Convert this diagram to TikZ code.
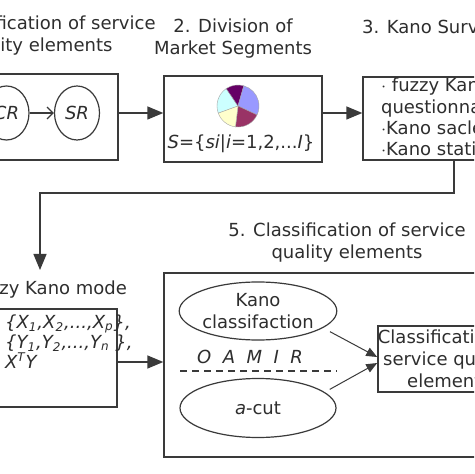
\documentclass[tikz,border=0pt]{standalone}
\usepackage{fontspec}
\setmainfont{DejaVu Sans}
\usepackage{tikz}
\usetikzlibrary{arrows.meta,shapes.geometric}
\definecolor{linec}{HTML}{3A3A3A}
\definecolor{textc}{HTML}{2E2E2E}
\definecolor{pblue}{HTML}{9999FF}
\definecolor{pmaroon}{HTML}{993366}
\definecolor{pyellow}{HTML}{FFFFCC}
\definecolor{pcyan}{HTML}{CCFFFF}
\definecolor{ppurple}{HTML}{660066}

\begin{document}
\begin{tikzpicture}[x=0.5pt,y=-0.5pt,
    font=\fontsize{9}{11}\selectfont, text=textc,
    box/.style={draw=linec, line width=0.7pt, inner sep=0pt},
    ell/.style={ellipse, draw=linec, line width=0.6pt, inner sep=0pt, align=center},
    arr/.style={draw=linec, line width=0.7pt, -{Triangle[length=8pt,width=6.5pt]}},
    smallarr/.style={draw=linec, line width=0.5pt, -{Triangle[length=5.5pt,width=4.5pt]}}]

\useasboundingbox (0,0) rectangle (474,474);
\fill[white] (0,0) rectangle (474,474);
\clip (0,0) rectangle (474,474);

\node[align=center] (t1) at (37,36) {1. Classification of service\\quality elements};
\node[align=center] (t2) at (233,39) {2. Division of\\Market Segments};
\node[anchor=west] (t3) at (355,29) {3. Kano Survey};
\node[anchor=east] (t4) at (134,290) {4. Fuzzy Kano mode};
\node[align=center] (t5) at (347,243) {5. Classification of service\\quality elements};

\node[box, minimum width=79pt, minimum height=43pt] (box1) at (39,117) {};
\node[ell, minimum width=22.5pt, minimum height=27pt] (cr) at (6.5,113) {\textit{CR}};
\node[ell, minimum width=22.5pt, minimum height=27pt] (sr) at (77,113) {\textit{SR}};
\draw[draw=linec, line width=0.6pt, -{Straight Barb[length=3pt,width=6pt]}] (cr) -- (sr);

\node[box, minimum width=79pt, minimum height=43pt] (box2) at (243,119) {};
\foreach \a/\b/\c in {-200/-124/pcyan, -124/-74/ppurple, -74/25/pblue, 25/97/pmaroon, 97/160/pyellow}
    \filldraw[fill=\c, draw=gray!70, line width=0.2pt] (238,106) -- ++(\a:21) arc[start angle=\a, end angle=\b, radius=21] -- cycle;
\node (seg) at (241,144) {\textit{S}=\{\textit{si}|\textit{i}=1,2,...\textit{I}\}};

\node[box, minimum width=79pt, minimum height=41.5pt] (box3) at (442,118.5) {};
\node[anchor=west, align=left, font=\fontsize{9}{10.6}\selectfont] (survey) at (374,117)
    {$\cdot$ fuzzy Kano\\questionnaire\\$\cdot$Kano sacle\\$\cdot$Kano statistics};

\node[box, minimum width=78.5pt, minimum height=49pt] (box4) at (38.5,358) {};
\node[anchor=west, align=left, font=\itshape\fontsize{9}{10}\selectfont] (vec) at (-2,342)
    {\{X\textsubscript{1},X\textsubscript{2},...,X\textsubscript{p}\},\\
     \{Y\textsubscript{1},Y\textsubscript{2},...,Y\textsubscript{n} \},\\
     X\textsuperscript{T}Y};

\node[box, minimum width=183pt, minimum height=92pt] (box5) at (347,365) {};
\node[ell, minimum width=78pt, minimum height=29pt] (kc) at (258,311) {Kano\\classifaction};
\node (oamir) at (250,357) {\textit{O\ \ A\ \ M\ \ I\ \ R}};
\draw[draw=linec, line width=0.6pt, dash pattern=on 3.5pt off 2.5pt] (180,371) -- (337,371);
\node[ell, minimum width=78pt, minimum height=29.5pt] (ac) at (258,408) {\textit{a}-cut};
\node[box, minimum width=66pt, minimum height=33pt, align=center] (res) at (449,359)
    {Classification of\\service quality\\elements};
\draw[smallarr] ([shift={(3,6)}]kc.-12) -- ([yshift=1pt]res.west);
\draw[smallarr] ([shift={(3,-4)}]ac.12) -- ([yshift=-2pt]res.west);

\coordinate (c1) at (454,193);
\coordinate (c2) at (40,193);
\coordinate (c3) at (40,270);
\draw[arr] (box1.east |- sr) -- (box2.west |- sr);
\draw[arr] (box2.east |- sr) -- (box3.west |- sr);
\draw[arr] (box3.south -| c1) -- (c1) -- (c2) -- (c3);
\draw[arr] ([yshift=-2pt]box4.east) -- ([yshift=-2pt]box4.east -| box5.west);
\end{tikzpicture}
\end{document}
